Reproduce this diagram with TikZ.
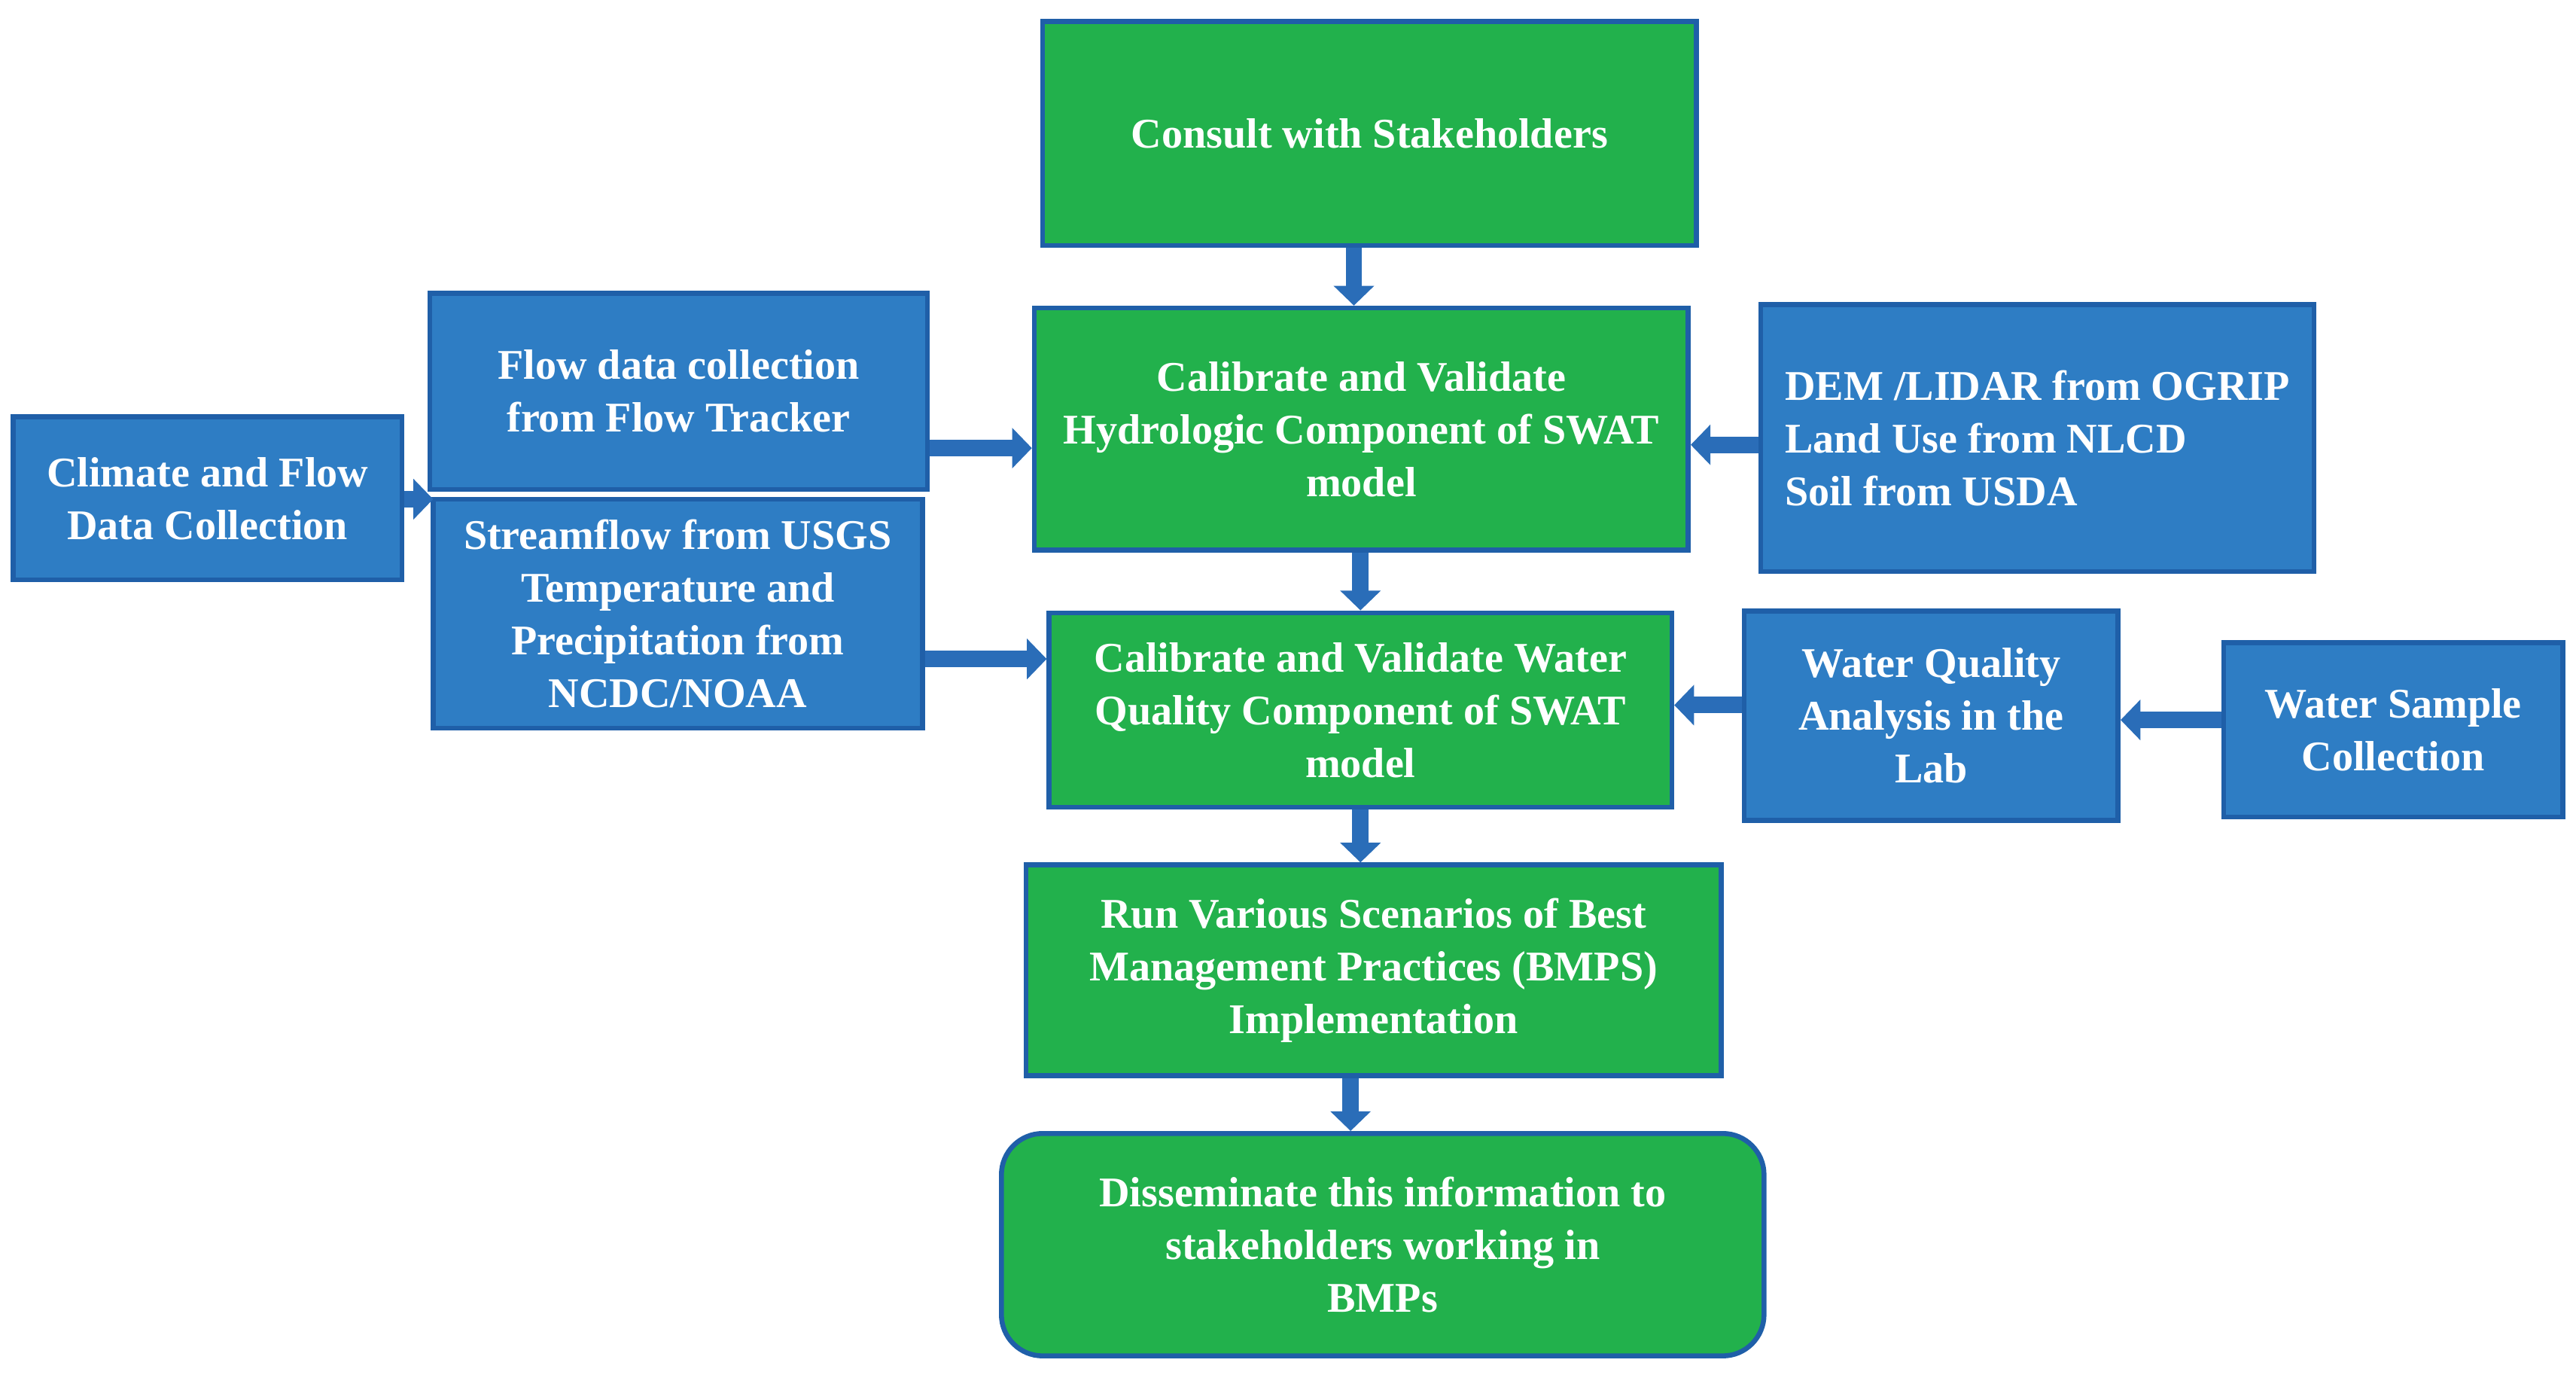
\documentclass[tikz,border=0pt]{standalone}
\usepackage{fontspec}
\setmainfont{Liberation Serif}
\usetikzlibrary{arrows.meta}
\definecolor{gfill}{HTML}{22B14C}
\definecolor{bfill}{HTML}{2E7DC4}
\definecolor{bdraw}{HTML}{1F5FA8}
\definecolor{arr}{HTML}{2A6DB8}
\tikzset{
 base/.style={draw=bdraw,line width=0.03cm,text=white,font=\bfseries\fontsize{7.3}{9.1}\selectfont,align=center,inner sep=0pt},
 gbox/.style={base,fill=gfill},
 bbox/.style={base,fill=bfill},
 arw/.style={draw=arr,line width=0.1cm,-{Triangle[width=0.24cm,length=0.12cm]}}
}
\begin{document}
\begin{tikzpicture}[x=1cm,y=1cm]
\useasboundingbox (0,0) rectangle (15.64,8.38);
\node[gbox,minimum width=3.97cm,minimum height=1.36cm] (consult) at (8.315,7.57) {Consult with Stakeholders};
\node[gbox,minimum width=3.97cm,minimum height=1.47cm] (hydro) at (8.265,5.775) {Calibrate and Validate\\Hydrologic Component of SWAT\\model};
\node[gbox,minimum width=3.78cm,minimum height=1.18cm] (wq) at (8.26,4.07) {Calibrate and Validate Water\\Quality Component of SWAT\\model};
\node[gbox,minimum width=4.22cm,minimum height=1.28cm] (run) at (8.34,2.49) {Run Various Scenarios of Best\\Management Practices (BMPS)\\Implementation};
\node[gbox,rounded corners=0.25cm,minimum width=4.63cm,minimum height=1.35cm] (dis) at (8.395,0.825) {Disseminate this information to\\stakeholders working in\\BMPs};
\node[bbox,minimum width=3.02cm,minimum height=1.19cm] (flow) at (4.12,6.005) {Flow data collection\\from Flow Tracker};
\node[bbox,minimum width=2.36cm,minimum height=0.99cm] (clim) at (1.26,5.355) {Climate and Flow\\Data Collection};
\node[bbox,minimum width=2.97cm,minimum height=1.39cm] (stream) at (4.115,4.655) {Streamflow from USGS\\Temperature and\\Precipitation from\\NCDC/NOAA};
\node[bbox,minimum width=3.36cm,minimum height=1.62cm,align=left] (dem) at (12.37,5.72) {DEM /LIDAR from OGRIP\\Land Use from NLCD\\Soil from USDA};
\node[bbox,minimum width=2.27cm,minimum height=1.27cm] (lab) at (11.725,4.035) {Water Quality\\Analysis in the\\Lab};
\node[bbox,minimum width=2.06cm,minimum height=1.06cm] (samp) at (14.53,3.95) {Water Sample\\Collection};
\coordinate (cj) at (2.63,5.35);
\draw[arw] (consult.south -| 8.22,0) -- (hydro.north -| 8.22,0);
\draw[arw] (hydro.south -| 8.26,0) -- (wq.north -| 8.26,0);
\draw[arw] (wq.south -| 8.26,0) -- (run.north -| 8.26,0);
\draw[arw] (run.south -| 8.2,0) -- (dis.north -| 8.2,0);
\draw[arw] (flow.east |- 0,5.66) -- (hydro.west |- 0,5.66);
\draw[arw] (clim.east |- 0,5.35) -- (cj);
\draw[arw] (stream.east |- 0,4.38) -- (wq.west |- 0,4.38);
\draw[arw] (dem.west |- 0,5.68) -- (hydro.east |- 0,5.68);
\draw[arw] (lab.west |- 0,4.1) -- (wq.east |- 0,4.1);
\draw[arw] (samp.west |- 0,4.01) -- (lab.east |- 0,4.01);
\end{tikzpicture}
\end{document}
